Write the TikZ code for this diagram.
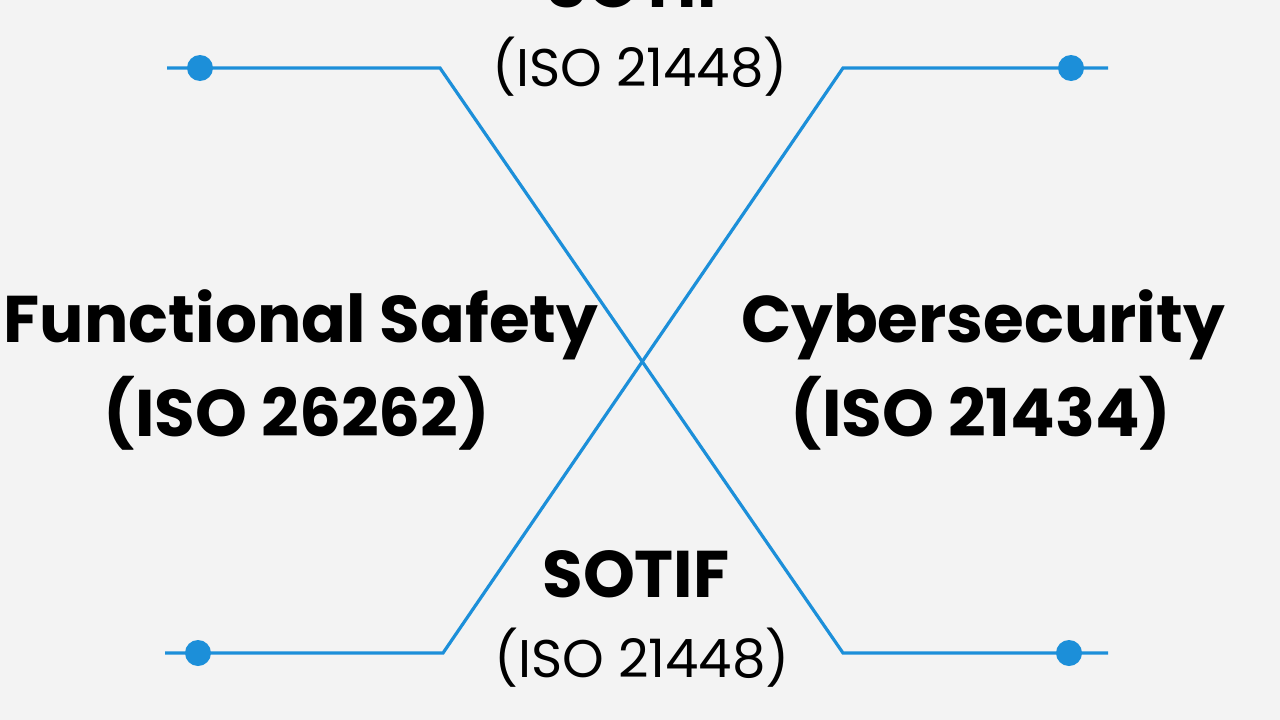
\documentclass[tikz,border=0pt]{standalone}
\usepackage{fontspec}
\setmainfont{Poppins}
\usetikzlibrary{calc}

\definecolor{linkblue}{HTML}{1C8FD9}
\definecolor{bggray}{HTML}{F3F3F3}

\tikzset{
	link/.style={line width=3.2pt, color=linkblue, line join=miter},
	enddot/.style={circle, fill=linkblue, inner sep=0pt, minimum size=26pt},
	titletext/.style={font=\fontsize{66}{72}\selectfont\bfseries, align=center, inner sep=0pt},
	isotext/.style={font=\fontsize{53}{60}\selectfont, inner sep=0pt},
}

\begin{document}
\begin{tikzpicture}[x=1pt, y=-1pt]
	% Background
	\fill[bggray] (0,0) rectangle (1280,720);
	\useasboundingbox (0,0) rectangle (1280,720);

	% Connector from top left to bottom right
	\begin{scope}
		\coordinate (tlend) at (167,68);
		\coordinate (tlbend) at (440,68);
		\coordinate (brbend) at (843,653);
		\coordinate (brend) at (1108,653);
		\draw[link] (tlend)--(tlbend)--(brbend)--(brend);
		\node[enddot] (tldot) at (200,68) {};
		\node[enddot] (brdot) at (1069,653) {};
	\end{scope}

	% Connector from top right to bottom left
	\begin{scope}
		\coordinate (trend) at (1108,68);
		\coordinate (trbend) at (843,68);
		\coordinate (blbend) at (443,653);
		\coordinate (blend) at (165,653);
		\draw[link] (trend)--(trbend)--(blbend)--(blend);
		\node[enddot] (trdot) at (1071,68) {};
		\node[enddot] (bldot) at (198,653) {};
	\end{scope}

	% Labels
	\node[titletext] (sotiftop) at (640,-16) {SOTIF};
	\node[isotext] (sotiftopiso) at (640,67) {(ISO 21448)};
	\node[titletext] (fusa) at (301,325) {Functional Safety};
	\node[titletext] (fusaiso) at (297,413) {(ISO 26262)};
	\node[titletext] (cyber) at (983,325) {Cybersecurity};
	\node[titletext] (cyberiso) at (981,413) {(ISO 21434)};
	\node[titletext] (sotifbottom) at (636,574) {SOTIF};
	\node[isotext] (sotifbottomiso) at (642,658) {(ISO 21448)};
\end{tikzpicture}
\end{document}
